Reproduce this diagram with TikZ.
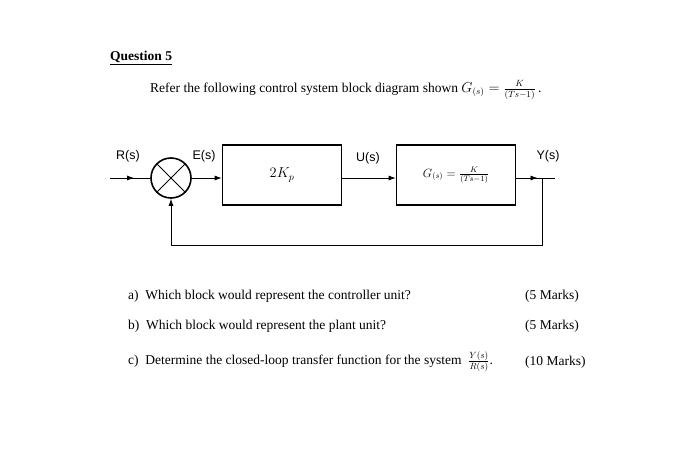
\documentclass[tikz,border=0pt]{standalone}
\usepackage{fontspec}
\setmainfont{Liberation Serif}
\newfontfamily\sansf{Liberation Sans}
\usetikzlibrary{decorations.markings,arrows.meta}
\begin{document}
\begin{tikzpicture}[x=1pt,y=-1pt,
  blk/.style={draw,line width=1.6pt,minimum width=119pt,minimum height=60pt,inner sep=0},
  lbl/.style={font=\sansf\fontsize{12.5}{14}\selectfont},
  txt/.style={anchor=west,font=\fontsize{13.5}{16}\selectfont,inner sep=0},
  ar/.style={-{Latex[length=7pt,width=5pt]}},
  mid/.style={postaction={decorate},decoration={markings,mark=at position #1 with {\arrow{Latex[length=7pt,width=5pt]}}}},
  sig/.style={line width=0.8pt}]
\path[fill=white] (0,0) rectangle (700,452);
\node[anchor=west,font=\bfseries\fontsize{13.5}{16}\selectfont,inner sep=0] (q) at (110,58) {\underline{Question 5}};
\node[txt] (ref) at (150,90) {Refer the following control system block diagram shown $G_{(s)}=\frac{K}{(Ts-1)}$\,.};
\node[draw,circle,line width=1.6pt,minimum size=40pt,inner sep=0] (sum) at (171,178) {};
\draw[sig] (sum.45) -- (sum.225) (sum.135) -- (sum.-45);
\node[blk] (b1) at (282,175) {\fontsize{14}{16}\selectfont$2K_p$};
\node[blk] (b2) at (456,175) {\fontsize{12}{14}\selectfont$G_{(s)}=\frac{K}{(Ts-1)}$};
\coordinate (in) at (110,178);
\coordinate (out) at (555,178);
\coordinate (fb) at (542,178);
\coordinate (fb1) at (542,245);
\coordinate (fb2) at (171,245);
\draw[sig,mid=0.6] (in) -- (sum.west);
\draw[sig,ar] (sum.east) -- (b1.west |- sum.east);
\draw[sig,ar] (b1.east |- sum.east) -- (b2.west |- sum.east);
\draw[sig,mid=0.55] (b2.east |- sum.east) -- (out);
\draw[sig,ar] (fb) -- (fb1) -- (fb2) -- (sum.south);
\node[lbl] (r) at (128,156) {R(s)};
\node[lbl] (e) at (204,156) {E(s)};
\node[lbl] (u) at (368,158) {U(s)};
\node[lbl] (y) at (548,156) {Y(s)};
\node[txt] (a) at (128,296) {a)\ \ Which block would represent the controller unit?};
\node[txt] (b) at (128,326) {b)\ \ Which block would represent the plant unit?};
\node[txt] (c) at (128,362) {c)\ \ Determine the closed-loop transfer function for the system\ \ $\frac{Y(s)}{R(s)}$.};
\node[txt] (ma) at (525,296) {(5 Marks)};
\node[txt] (mb) at (525,326) {(5 Marks)};
\node[txt] (mc) at (525,362) {(10 Marks)};
\end{tikzpicture}
\end{document}
